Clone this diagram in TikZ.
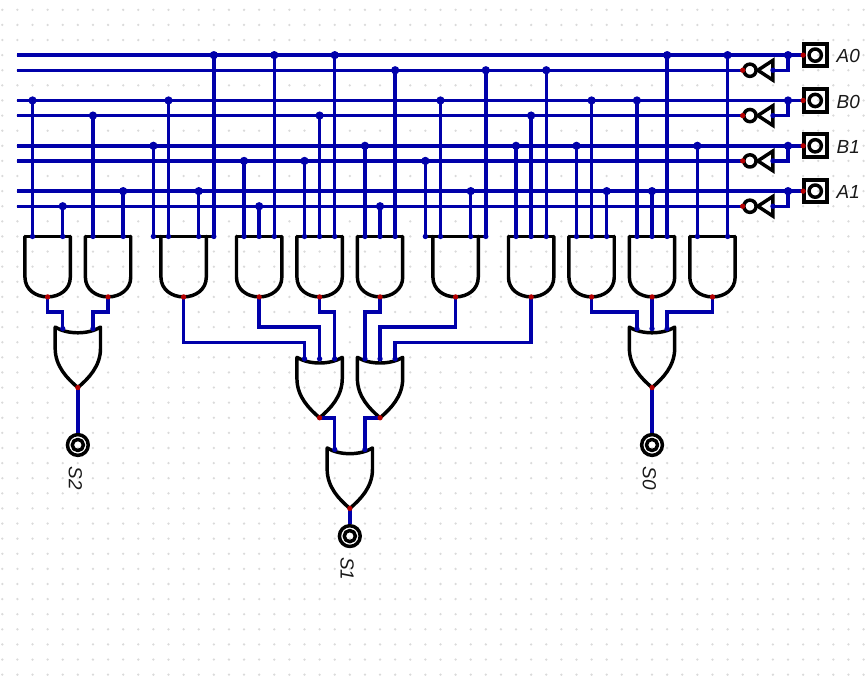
\documentclass[tikz,border=0pt]{standalone}
\usepackage{fontspec}
\setmainfont{Liberation Sans}
\definecolor{wireblue}{RGB}{0,0,170}
\definecolor{pinred}{RGB}{180,0,0}
\definecolor{griddot}{RGB}{218,218,218}
\tikzset{
  wire/.style={draw=wireblue,line width=2.6pt,line join=miter},
  gateline/.style={draw=black,line width=2.6pt,line join=round,line cap=round},
  boxline/.style={draw=black,line width=3pt,line join=miter},
  junction/.style={fill=wireblue,draw=none},
  label/.style={font=\itshape\fontsize{14.2pt}{16pt}\selectfont,text=black!90,inner sep=0pt},
}
% AND gate: centre column, top row; left/right extent of the top bar
\newcommand{\andgate}[5]{% name, centre, top, barleft, barright
  \coordinate (#1-o) at (#2,#3+4);
  \draw[gateline] (#2-1.5,#3) -- (#2-1.5,#3+2.7)
     .. controls (#2-1.5,#3+3.5) and (#2-0.8,#3+4) .. (#2,#3+4)
     .. controls (#2+0.8,#3+4) and (#2+1.5,#3+3.5) .. (#2+1.5,#3+2.7)
     -- (#2+1.5,#3);
  \draw[gateline,line cap=butt] (#4,#3) -- (#5,#3);
}
\newcommand{\orgate}[3]{% name, centre, top
  \coordinate (#1-o) at (#2,#3+4);
  \draw[gateline] (#2-1.5,#3) .. controls (#2-0.7,#3+0.5) and (#2+0.7,#3+0.5) .. (#2+1.5,#3)
     -- (#2+1.5,#3+1.4) .. controls (#2+1.5,#3+2.6) and (#2+0.7,#3+3.4) .. (#2,#3+4)
     .. controls (#2-0.7,#3+3.4) and (#2-1.5,#3+2.6) .. (#2-1.5,#3+1.4) -- cycle;
}
\newcommand{\pindot}[2][pinred]{\fill[#1] (#2) circle (2pt);}
\newcommand{\bigdot}[1]{\fill[junction] (#1) circle (3.1pt);}
\begin{document}
\begin{tikzpicture}[x=11.3325pt,y=-11.3325pt]
\useasboundingbox[fill=white] (-0.152,-0.649) rectangle (57.227,45.08);
% background dots
\foreach \i in {0,...,57}{\foreach \j in {0,...,44}{
  \fill[griddot] (\i,\j) circle (0.95pt);}}
% rails
\foreach \r/\e in {3/53,6/53,9/53,12/53}{
  \coordinate (rs\r) at (1,\r); \coordinate (re\r) at (\e,\r);
  \draw[wire] (rs\r) -- (re\r);}
\foreach \r in {4,7,10,13}{
  \coordinate (rs\r) at (1,\r); \coordinate (re\r) at (49,\r);
  \draw[wire] (rs\r) -- (re\r);}
% AND gates
\andgate{g1}{3}{15}{1.5}{4.5}
\andgate{g2}{7}{15}{5.5}{8.5}
\andgate{g3}{12}{15}{10}{14}
\andgate{g4}{17}{15}{15.5}{18.5}
\andgate{g5}{21}{15}{19.5}{22.5}
\andgate{g6}{25}{15}{23.5}{26.5}
\andgate{g7}{30}{15}{28}{32}
\andgate{g8}{35}{15}{33.5}{36.5}
\andgate{g9}{39}{15}{37.5}{40.5}
\andgate{g10}{43}{15}{41.5}{44.5}
\andgate{g11}{47}{15}{45.5}{48.5}
% OR gates
\orgate{o1}{5}{21}
\orgate{o2}{21}{23}
\orgate{o3}{25}{23}
\orgate{o4}{23}{29}
\orgate{o5}{43}{21}
% input taps: column / rail
\foreach \c/\r in {2/6,4/13,6/7,8/12,10/9,11/6,13/12,14/3,16/10,17/13,18/3,
  20/10,21/7,22/3,24/9,25/13,26/4,28/10,29/6,31/12,32/4,34/9,35/7,36/4,
  38/9,39/6,40/12,42/6,43/12,44/3,46/9,48/3}{
  \coordinate (tap\c) at (\c,\r);
  \coordinate (pin\c) at (\c,15);
  \draw[wire] (tap\c) -- (pin\c);
  \bigdot{tap\c}
  \fill[junction] (pin\c) circle (2pt);
}
% gate-output routing
\newcommand{\route}[5]{% from, mid row, to column, to row
  \coordinate (#1-end) at (#3,#4+0.1);
  \draw[wire] (#1) -- (#1 |- 0,#2) -- (#3,#2) -- (#1-end);
  \fill[junction] (#1-end) circle (2pt);
}
\route{g1-o}{20}{4}{21}{}
\route{g2-o}{20}{6}{21}{}
\route{g3-o}{22}{20}{23}{}
\route{g4-o}{21}{21}{23}{}
\route{g5-o}{20}{22}{23}{}
\route{g6-o}{20}{24}{23}{}
\route{g7-o}{21}{25}{23}{}
\route{g8-o}{22}{26}{23}{}
\route{g9-o}{20}{42}{21}{}
\route{g10-o}{20}{43}{21}{}
\route{g11-o}{20}{44}{21}{}
\route{o2-o}{27}{22}{29}{}
\route{o3-o}{27}{24}{29}{}
% output terminals
\foreach \n/\c/\t/\o/\lab/\ly in {s2/5/o1/25/S2/31.0,s1/23/o4/33/S1/37.0,s0/43/o5/25/S0/31.0}{
  \coordinate (\n) at (\c,\o+3.8);
  \ifnum\c=23 \coordinate (\n) at (\c,\o+1.83); \fi
  \draw[wire] (\t-o) -- ([yshift=9pt]\n);
  \draw[gateline] (\n) circle (7.8pt);
  \draw[gateline] (\n) circle (4.2pt);
  \node[label,rotate=-90] (lab\n) at (\c-0.17,\ly) {\lab};
}
% input boxes and inverters
\foreach \r/\lab in {3/A0,6/B0,9/B1,12/A1}{
  \pgfmathtruncatemacro{\rn}{\r+1}
  \coordinate (sw\r) at (53.8,\r);
  \coordinate (tapin\r) at (52,\r);
  \coordinate (invin\r) at (51,\rn);
  \coordinate (apex\r) at (50,\rn);
  \coordinate (bub\r) at (49.48,\rn);
  \draw[wire] (tapin\r) |- (invin\r);
  \bigdot{tapin\r}
  \draw[gateline,line join=miter] (invin\r) -- ([yshift=-7.4pt]invin\r) -- (apex\r) -- ([yshift=7.4pt]invin\r) -- cycle;
  \draw[gateline] (bub\r) circle (4.6pt);
  \fill[junction] (invin\r) circle (2pt);
  \pindot{re\rn}
  \draw[boxline] ([xshift=-8.5pt,yshift=-8.5pt]sw\r) rectangle ([xshift=8.5pt,yshift=8.5pt]sw\r);
  \draw[gateline] (sw\r) circle (4.6pt);
  \pindot{re\r}
  \node[label,anchor=west] (lab\r) at (55.2,\r+0.08) {\lab};
}
% output pins
\foreach \g in {g1,g2,g3,g4,g5,g6,g7,g8,g9,g10,g11,o1,o2,o3,o4,o5}{
  \pindot{\g-o}
}
\end{tikzpicture}
\end{document}
